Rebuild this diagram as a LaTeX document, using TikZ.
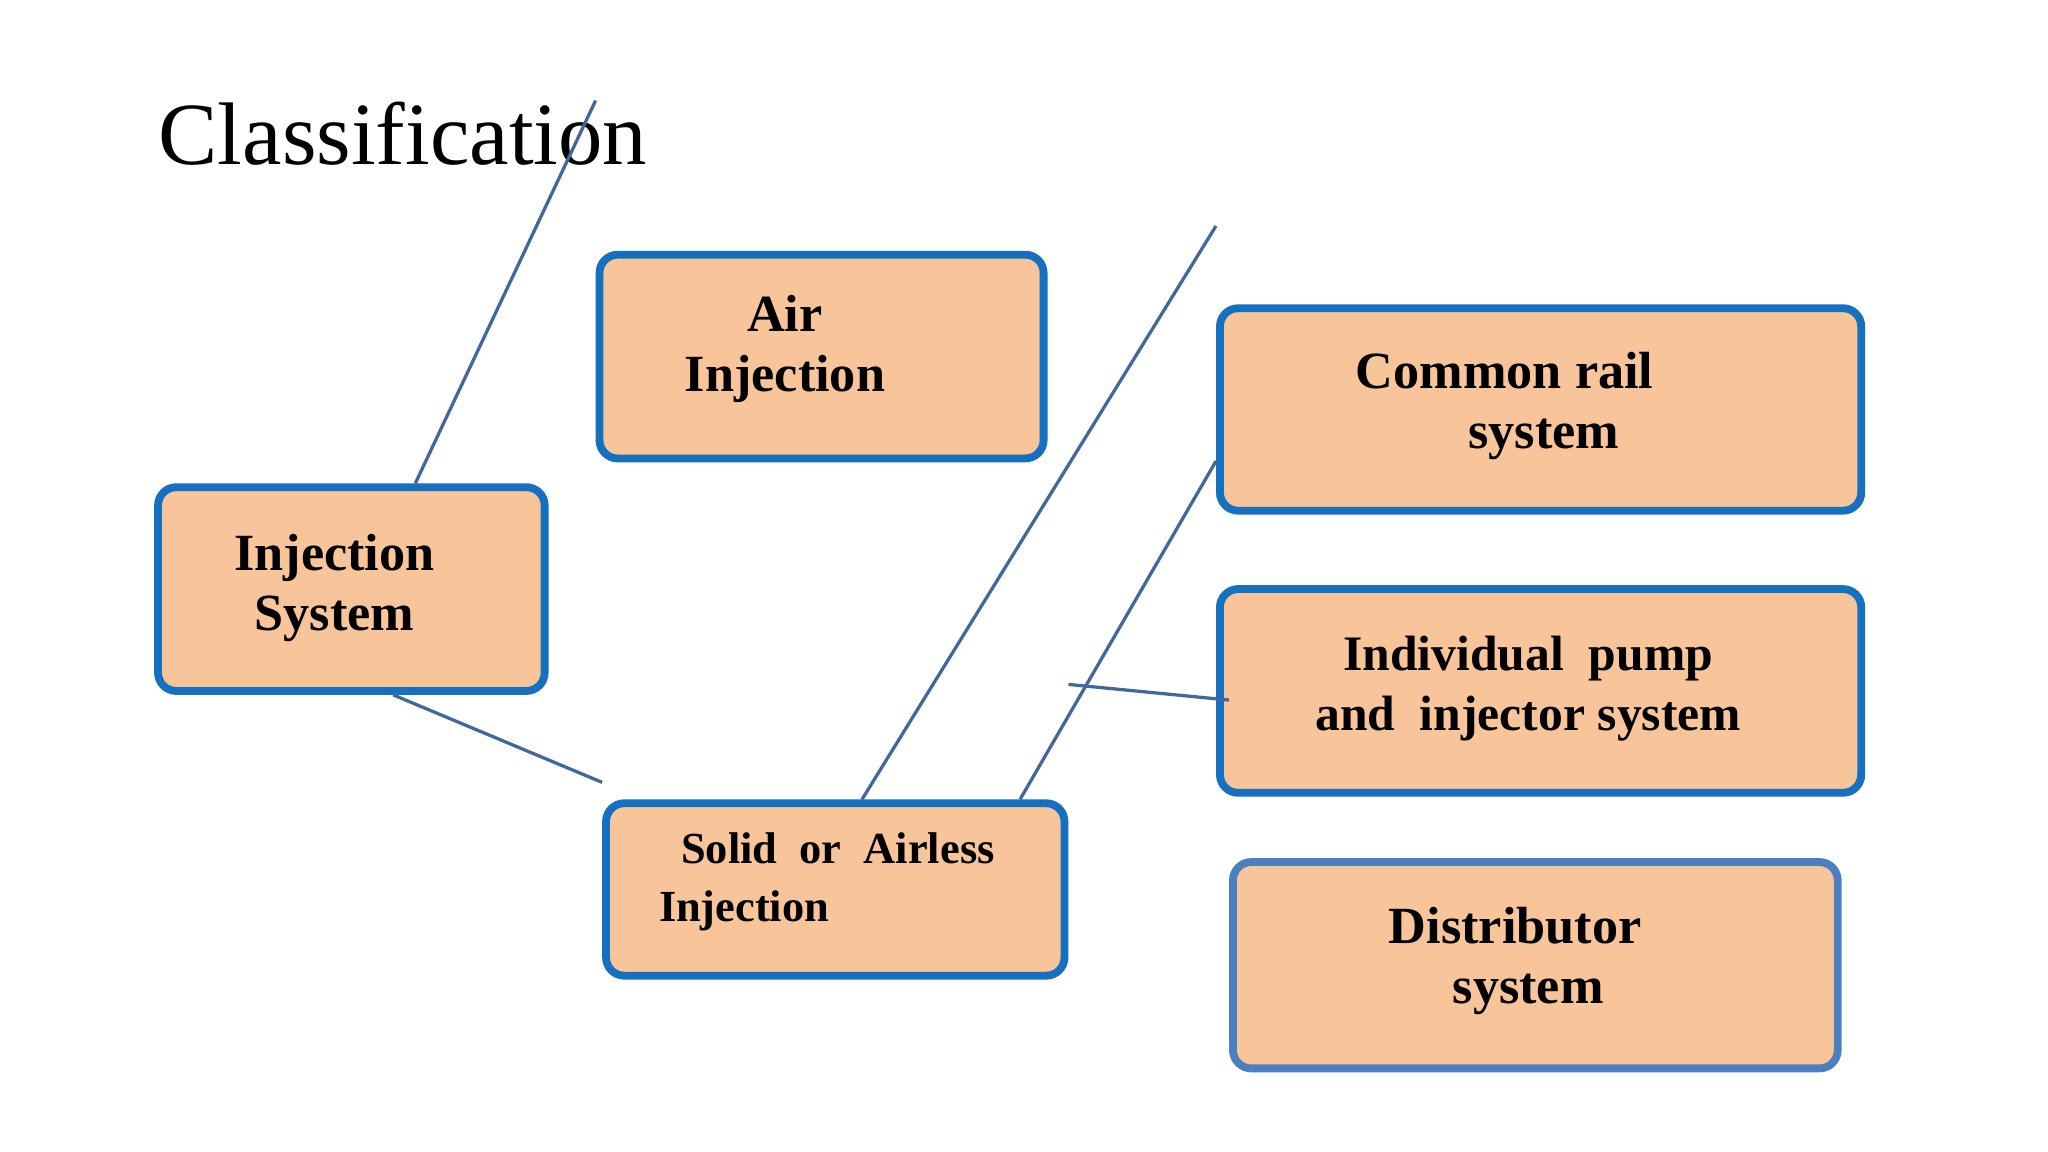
\documentclass[tikz,border=0pt]{standalone}
\usepackage{fontspec}
\setmainfont{Liberation Serif}
\begin{document}
\begin{tikzpicture}[x=1pt,y=-1pt,
  box/.style={draw=boxblue,line width=6pt,fill=boxfill,rounded corners=14pt,anchor=north west,inner sep=0pt},
  lbl/.style={font=\fontsize{40}{46}\selectfont\bfseries,align=center,text=black},
  conn/.style={draw=lineblue,line width=2.5pt}]
\definecolor{boxblue}{HTML}{1570C0}
\definecolor{boxblue2}{HTML}{4A80C0}
\definecolor{boxfill}{HTML}{F8C49A}
\definecolor{lineblue}{HTML}{41679B}
\useasboundingbox (0,0) rectangle (1568,882);
\fill[white] (0,0) rectangle (1568,882);
\node[anchor=west,font=\fontsize{68}{80}\selectfont] (title) at (118,102) {Classification};
\node[box,minimum width=340pt,minimum height=156pt] (air) at (456,192) {};
\node[box,minimum width=296pt,minimum height=156pt] (inj) at (118,370) {};
\node[box,minimum width=491pt,minimum height=155pt] (cr) at (931,233) {};
\node[box,minimum width=491pt,minimum height=156pt] (ind) at (931,448) {};
\node[box,minimum width=351pt,minimum height=132pt] (sol) at (461,612) {};
\fill[boxfill!90!brown,rounded corners=14pt] (947,663) rectangle (1408,819);
\node[box,draw=boxblue2,minimum width=463pt,minimum height=158pt] (dis) at (941,657) {};
\node[lbl] (airt) at (601,267) {Air\\Injection};
\node[lbl] (injt) at (256,450) {Injection\\System};
\node[lbl] (crt) at (1152,311) {Common rail\\\hspace*{60pt}system};
\node[lbl,font=\fontsize{38}{46}\selectfont\bfseries] (indt) at (1170,527) {Individual\ \ pump\\and\ \ injector system};
\node[lbl,font=\fontsize{34}{44}\selectfont\bfseries,align=left] (solt) at (633,675) {\ \ Solid\ \ or\ \ Airless\\Injection};
\node[lbl] (dist) at (1160,736) {Distributor\\\hspace*{20pt}system};
\draw[conn] ([xshift=-102pt]inj.north east) -- ([yshift=115pt]air.north west);
\draw[conn] ([xshift=-119pt]inj.south east) -- ([yshift=13pt]sol.north west);
\draw[conn] ([xshift=199pt]sol.north west) -- ([yshift=60pt]cr.north west);
\draw[conn] ([xshift=-37pt]sol.north east) -- ([yshift=95pt]ind.north west);
\draw[conn] ([yshift=88pt]sol.north east) -- ([yshift=121pt]dis.north west);
\end{tikzpicture}
\end{document}
